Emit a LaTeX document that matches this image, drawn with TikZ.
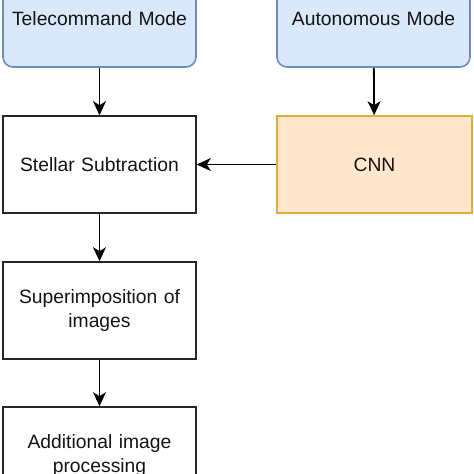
\documentclass[tikz,border=0pt]{standalone}
\usepackage{fontspec}
\setmainfont{Liberation Sans}
\usetikzlibrary{arrows.meta}
\definecolor{bluefill}{HTML}{DAE8FC}
\definecolor{blueline}{HTML}{6C8EBF}
\definecolor{orangefill}{HTML}{FFE6CC}
\definecolor{orangeline}{HTML}{D79B00}
\tikzset{
  box/.style={draw=black!85, line width=1.6pt, minimum width=193pt, minimum height=97pt, inner sep=0pt, align=center, text width=180pt, font=\fontsize{19.3}{24}\selectfont, text=black!92},
  modebox/.style={box, draw=blueline, fill=bluefill, rounded corners=10pt},
  cnnbox/.style={box, draw=orangeline!80, fill=orangefill},
  flow/.style={line width=1.8pt, -{Stealth[length=14pt,width=13pt,inset=4pt]}}
}
\begin{document}
\begin{tikzpicture}[x=1pt,y=-1pt]
\useasboundingbox (0,0) rectangle (474,474);
\clip (0,0) rectangle (474,474);
\node[modebox] (tele) at (99.5,18.5) {Telecommand Mode};
\node[modebox] (auto) at (373.5,18.5) {Autonomous Mode};
\node[box] (stellar) at (99.5,164.5) {Stellar Subtraction};
\node[cnnbox, minimum width=195pt] (cnn) at (374.5,164.5) {CNN};
\node[box] (super) at (99.5,310.5) {Superimposition of\\images};
\node[box] (add) at (99.5,455.5) {Additional image\\processing};
\draw[flow] (tele) -- (stellar);
\draw[flow] (auto) -- (cnn);
\draw[flow] (cnn) -- (stellar);
\draw[flow] (stellar) -- (super);
\draw[flow] (super) -- (add);
\end{tikzpicture}
\end{document}
